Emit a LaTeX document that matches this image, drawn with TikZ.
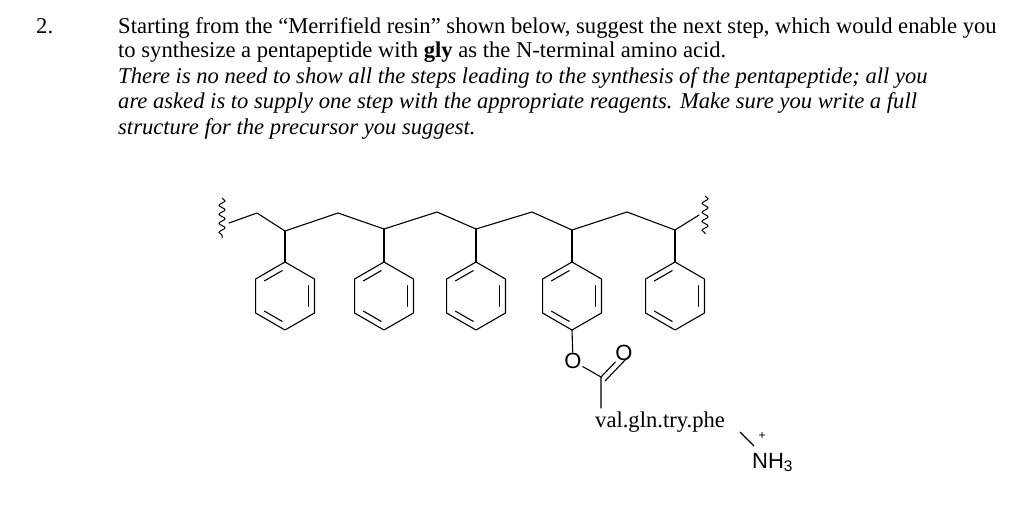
\documentclass[tikz,border=0pt]{standalone}
\usepackage{fontspec}
\setmainfont{Liberation Serif}
\newfontfamily\sansf{Liberation Sans}
\usetikzlibrary{decorations.pathmorphing,calc}
\tikzset{bond/.style={line width=1.1pt,line cap=round,line join=round},
 txt/.style={anchor=base west,inner sep=0pt,font=\fontsize{22.6}{24}\selectfont},
 wavy/.style={line width=1pt,decorate,decoration={snake,amplitude=3pt,segment length=9pt}}}
\newcommand{\benz}[2]{%
 \begin{scope}[shift={(#1,#2)}]
 \draw[bond] (90:34)--(150:34)--(210:34)--(270:34)--(330:34)--(30:34)--cycle;
 \draw[bond] ($(90:27)!0.12!(150:27)$)--($(90:27)!0.88!(150:27)$);
 \draw[bond] ($(330:27)!0.12!(30:27)$)--($(330:27)!0.88!(30:27)$);
 \draw[bond] ($(210:27)!0.12!(270:27)$)--($(210:27)!0.88!(270:27)$);
 \end{scope}}
\begin{document}
\begin{tikzpicture}[x=1pt,y=-1pt]
\useasboundingbox (0,0) rectangle (1024,515);
\node[txt] (n) at (36,33) {2.};
\node[txt] (l1) at (118,33) {Starting from the “Merrifield resin” shown below, suggest the next step, which would enable you};
\node[txt] (l2) at (118,57) {to synthesize a pentapeptide with \textbf{gly} as the N-terminal amino acid.};
\node[txt] (l3) at (118,83) {\itshape There is no need to show all the steps leading to the synthesis of the pentapeptide; all you};
\node[txt] (l4) at (118,108) {\itshape are asked is to supply one step with the appropriate reagents. Make sure you write a full};
\node[txt] (l5) at (118,134) {\itshape structure for the precursor you suggest.};
% chain
\coordinate (c0) at (229,223); \coordinate (b1) at (285,231);
\coordinate (b2) at (384,229); \coordinate (b3) at (476,229);
\coordinate (b4) at (572,230); \coordinate (b5) at (675,230);
\coordinate (c5) at (699,215);
\draw[bond] (c0)--(257,213)--(b1)--(338,213)--(b2)--(437,212)--(b3)--(532,212)--(b4)--(627,212)--(b5)--(c5);
\draw[wavy] (222,198)--(222,238);
\draw[wavy] (705,196)--(705,234);
\foreach \x/\b in {285/b1,384/b2,476/b3,572/b4,675/b5}{
 \draw[bond] (\b)--(\x,262);
 \benz{\x}{296}
}
\node[inner sep=1pt,font=\sansf\fontsize{22}{22}\selectfont] (o1) at (573,361) {O};
\node[inner sep=1pt,font=\sansf\fontsize{22}{22}\selectfont] (o2) at (624,353) {O};
\coordinate (cc) at (601,377);
\coordinate (cd) at (601,408);
\draw[bond] (572,330)--(o1);
\draw[bond] (o1)--(cc)--(cd);
\draw[bond] (cc)--(o2);
\draw[bond] ($(cc)+(4,4)$)--($(o2)+(4,4)$);
\node[txt] (pep) at (595,427) {val.gln.try.phe};
\node[anchor=base west,inner sep=0pt,font=\sansf\fontsize{22}{24}\selectfont] (nh) at (752,468) {NH\textsubscript{3}};
\node[font=\sansf\fontsize{12}{12}\selectfont,inner sep=0pt] (pl) at (762,436) {+};
\draw[line width=1.1pt] (740,432)--(754,446);
\end{tikzpicture}
\end{document}
